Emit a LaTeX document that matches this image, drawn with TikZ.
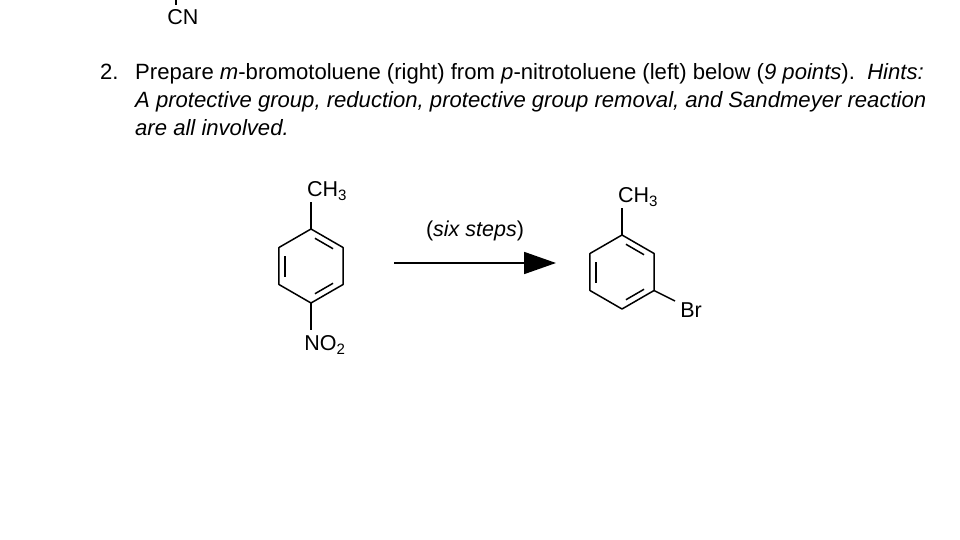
\documentclass[tikz,border=0pt]{standalone}
\usepackage{fontspec}
\setmainfont{Liberation Sans}
\usetikzlibrary{arrows.meta,calc}
\begin{document}
\begin{tikzpicture}[x=1pt,y=-1pt,
  bond/.style={line width=1.5pt},
  txt/.style={inner sep=0pt,anchor=base west,font=\fontsize{22.1}{26}\selectfont},
  lab/.style={inner sep=0pt,font=\fontsize{21.5}{24}\selectfont}]
\useasboundingbox (0,0) rectangle (960,540);
% top fragment
\draw[bond] (176,0) -- (176,5);
\node[lab] (cn) at (183,17) {CN};
% question
\node[txt] (n2) at (100,80) {2.};
\node[txt] (l1) at (135,80) {Prepare \textit{m}-bromotoluene (right) from \textit{p}-nitrotoluene (left) below (\textit{9 points}).\ \ \textit{Hints:}};
\node[txt] (l2) at (135,108) {\textit{A protective group, reduction, protective group removal, and Sandmeyer reaction}};
\node[txt] (l3) at (135,136) {\textit{are all involved.}};
% rings
\foreach \nm/\cx/\cy in {a/311/266,b/622/272}{
  \foreach \i in {0,...,5}{
    \coordinate (\nm\i) at ($(\cx,\cy)+(-90+60*\i:37)$);
    \coordinate (\nm p\i) at ($(\cx,\cy)+(-90+60*\i:30)$);}
  \draw[bond,line join=round] (\nm0)--(\nm1)--(\nm2)--(\nm3)--(\nm4)--(\nm5)--cycle;
  \foreach \j/\k in {0/1,2/3,4/5}{
    \draw[bond] ($(\nm p\j)!0.15!(\nm p\k)$) -- ($(\nm p\j)!0.85!(\nm p\k)$);}
}
% substituents left
\node[lab] (ch3a) at (327,191) {CH\textsubscript{3}};
\coordinate (ta) at (311,202);
\draw[bond] (a0) -- (ta);
\node[lab] (no2) at (325,345) {NO\textsubscript{2}};
\coordinate (ba) at (311,330);
\draw[bond] (a3) -- (ba);
% substituents right
\node[lab] (ch3b) at (638,197) {CH\textsubscript{3}};
\coordinate (tb) at (622,208);
\draw[bond] (b0) -- (tb);
\node[lab] (br) at (691,310) {Br};
\coordinate (bb) at (675,301);
\draw[bond] (b2) -- (bb);
% arrow
\coordinate (s) at (394,263);
\coordinate (e) at (556,263);
\draw[line width=1.8pt,-{Triangle[length=32pt,width=22pt]}] (s) -- (e);
\node[lab] (six) at (475,231) {(\textit{six steps})};
\end{tikzpicture}
\end{document}
